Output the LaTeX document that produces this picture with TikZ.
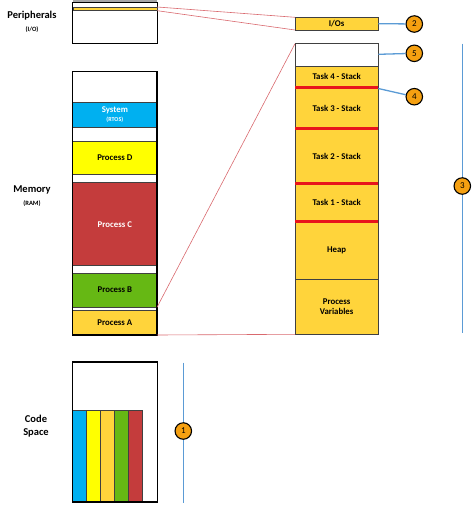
\documentclass[tikz,border=0pt]{standalone}
\usepackage{fontspec}
\setmainfont{Carlito}
\definecolor{cblue}{HTML}{00B0F0}
\definecolor{cyel}{HTML}{FFFF00}
\definecolor{cgold}{HTML}{FFD43B}
\definecolor{cred}{HTML}{C43C3C}
\definecolor{cgreen}{HTML}{66B814}
\definecolor{sred}{HTML}{E8141C}
\definecolor{corange}{HTML}{F5A011}
\definecolor{lblue}{HTML}{5B9BD5}
\definecolor{lred}{HTML}{D9696E}
\definecolor{edge}{HTML}{404040}
\begin{document}
\begin{tikzpicture}[x=1pt,y=-1pt,
  seg/.style={draw=edge,line width=0.6pt,inner sep=0pt,outer sep=0pt,anchor=north west,font=\bfseries\fontsize{8.8}{10}\selectfont,align=center},
  frame/.style={draw=black,line width=1.4pt,inner sep=0pt,outer sep=0pt,anchor=north west},
  lbl/.style={font=\bfseries\fontsize{10.5}{12.5}\selectfont,align=center},
  sub/.style={font=\bfseries\fontsize{6.5}{7.5}\selectfont},
  num/.style={circle,draw=black,line width=1.1pt,fill=corange,minimum size=16.5pt,inner sep=0pt,font=\fontsize{9}{10}\selectfont},
  bl/.style={draw=lblue,line width=1.3pt},
  rl/.style={draw=lred,line width=0.6pt},
  sl/.style={draw=sred,line width=2.6pt}]
\useasboundingbox (0,0) rectangle (474,507);

% ---------- Peripherals ----------
\node[lbl] (plbl) at (32,16) {Peripherals};
\node[sub] (psub) at (32,30) {(I/O)};
\fill[gray!70] (72.7,0) rectangle (157.3,2.7);
\node[frame,minimum width=84.6pt,minimum height=41pt] (pbox) at (72.7,2.7) {};
\node[draw=edge,line width=0.4pt,fill=cgold,inner sep=0pt,outer sep=0pt,anchor=north west,minimum width=84.6pt,minimum height=3.6pt] (pio) at (72.7,7) {};

% ---------- Memory ----------
\node[lbl] (mlbl) at (32,190) {Memory};
\node[sub] (msub) at (32,204) {(RAM)};
\node[frame,minimum width=84.3pt,minimum height=263.3pt] (mbox) at (72.7,71.7) {};
\node[seg,fill=cblue,text=white,minimum width=84.3pt,minimum height=24.7pt] (sys) at (72.7,102.3)
  {System\\[-1pt]{\fontsize{6}{7}\selectfont (RTOS)}};
\node[seg,fill=cyel,minimum width=84.3pt,minimum height=33pt] (pd) at (72.7,141.3) {Process D};
\node[seg,fill=cred,text=white,minimum width=84.3pt,minimum height=83pt] (pc) at (72.7,182.7) {Process C};
\node[seg,fill=cgreen,minimum width=84.3pt,minimum height=34.3pt] (pb) at (72.7,273) {Process B};
\node[seg,fill=cgold,minimum width=84.3pt,minimum height=24.3pt] (pa) at (72.7,310.7) {Process A};
\draw[black,line width=1.4pt] (mbox.north west) rectangle (mbox.south east);

% ---------- Code space ----------
\node[lbl] (clbl) at (36,426) {Code\\Space};
\node[frame,minimum width=84.6pt,minimum height=140pt] (cbox) at (72.7,362) {};
\node[seg,fill=cblue,minimum width=14pt,minimum height=91.7pt] (cb1) at (72.7,410.3) {};
\node[seg,fill=cyel,minimum width=14pt,minimum height=91.7pt] (cb2) at (86.7,410.3) {};
\node[seg,fill=cgold,minimum width=14pt,minimum height=91.7pt] (cb3) at (100.7,410.3) {};
\node[seg,fill=cgreen,minimum width=14pt,minimum height=91.7pt] (cb4) at (114.7,410.3) {};
\node[seg,fill=cred,minimum width=14pt,minimum height=91.7pt] (cb5) at (128.7,410.3) {};
\draw[black,line width=1.4pt] (cbox.north west) rectangle (cbox.south east);

% ---------- Right column ----------
\node[seg,fill=cgold,minimum width=83.3pt,minimum height=12.7pt] (ios) at (295,17.3) {I/Os};
\node[seg,fill=white,minimum width=83.3pt,minimum height=22.3pt] (free) at (295,43.7) {};
\node[seg,fill=cgold,minimum width=83.3pt,minimum height=21.3pt] (t4) at (295,66) {Task 4 - Stack};
\node[seg,fill=cgold,minimum width=83.3pt,minimum height=41.4pt] (t3) at (295,87.3) {Task 3 - Stack};
\node[seg,fill=cgold,minimum width=83.3pt,minimum height=55pt] (t2) at (295,128.7) {Task 2 - Stack};
\node[seg,fill=cgold,minimum width=83.3pt,minimum height=38pt] (t1) at (295,183.7) {Task 1 - Stack};
\node[seg,fill=cgold,minimum width=83.3pt,minimum height=57.3pt] (heap) at (295,221.7) {Heap};
\node[seg,fill=cgold,minimum width=83.3pt,minimum height=55.3pt] (pv) at (295,279) {Process\\Variables};
\draw[sl] (t3.north west) -- (t3.north east);
\draw[sl] (t2.north west) -- (t2.north east);
\draw[sl] (t1.north west) -- (t1.north east);
\draw[sl] (heap.north west) -- (heap.north east);

% ---------- red mapping lines ----------
\coordinate (pa1) at (157.3,7);
\coordinate (pa2) at (157.3,10.7);
\draw[rl] (pa1) -- (ios.north west);
\draw[rl] (pa2) -- (ios.south west);
\coordinate (ma1) at (157,307.3);
\draw[rl] (ma1) -- (free.north west);
\draw[rl] (pa.south east) -- (pv.south west);

% ---------- numbered markers ----------
\node[num] (c2) at (414.3,24) {2};
\node[num] (c5) at (414.3,53.3) {5};
\node[num] (c4) at (414.3,96.7) {4};
\coordinate (v3a) at (462.3,43.7);
\coordinate (v3b) at (462.3,333.3);
\coordinate (v1a) at (183.3,362.7);
\coordinate (v1b) at (183.3,502.7);
\draw[bl] (v3a) -- (v3b);
\draw[bl] (v1a) -- (v1b);
\node[num] (c3) at (462.3,186) {3};
\node[num] (c1) at (183.3,431) {1};
\draw[bl] (ios.east) -- (c2);
\coordinate (e5) at (378.3,54.3);
\draw[bl] (e5) -- (c5);
\coordinate (e4) at (378.3,88.5);
\draw[bl] (e4) -- (c4);
\end{tikzpicture}
\end{document}
